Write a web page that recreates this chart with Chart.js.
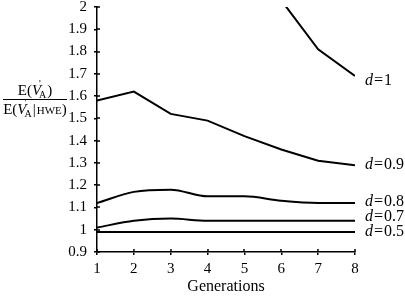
<!DOCTYPE html>
<html><head><meta charset="utf-8">
<script src="https://cdn.jsdelivr.net/npm/chart.js@4/dist/chart.umd.min.js"></script>
<style>html,body{margin:0;padding:0;background:#fff}#wrap{width:405px;height:299px}</style>
</head><body><div id="wrap"><canvas id="c"></canvas></div>
<script>
const generations = [1, 2, 3, 4, 5, 6, 7, 8];
const seriesNames = ['1', '0.9', '0.8', '0.7', '0.5'];
const d1   = [null, null, null, null, 2.30, 2.03, 1.81, 1.69];
const d09  = [1.58, 1.62, 1.52, 1.49, 1.42, 1.36, 1.31, 1.29];
const d08  = [1.12, 1.17, 1.18, 1.15, 1.15, 1.13, 1.12, 1.12];
const d07  = [1.01, 1.04, 1.05, 1.04, 1.04, 1.04, 1.04, 1.04];
const d05  = [0.99, 0.99, 0.99, 0.99, 0.99, 0.99, 0.99, 0.99];
const yTicks = [0.9, 1, 1.1, 1.2, 1.3, 1.4, 1.5, 1.6, 1.7, 1.8, 1.9, 2];
const xAxisTitle = 'Generations';

const seriesData = [d1, d09, d08, d07, d05];
const SERIF = '"Liberation Serif", "DejaVu Serif", serif';
const labelDy = [5, 0, -1, -4, 0];
const smooth = [false, false, true, true, false];

const innerTicks = {
  id: 'innerTicks',
  afterDatasetsDraw(chart) {
    const {ctx, chartArea: a, scales: {x, y}} = chart;
    ctx.save();
    ctx.strokeStyle = '#000'; ctx.lineWidth = 1.5;
    ctx.beginPath();
    yTicks.forEach(v => { const py = Math.round(y.getPixelForValue(v)); ctx.moveTo(a.left, py); ctx.lineTo(a.left + 3, py); });
    generations.forEach(v => { const px = Math.round(x.getPixelForValue(v)); ctx.moveTo(px, a.bottom); ctx.lineTo(px, a.bottom - 3); });
    ctx.stroke();
    ctx.restore();
  }
};

const endLabels = {
  id: 'endLabels',
  afterDraw(chart) {
    const {ctx, scales: {x, y}} = chart;
    ctx.save();
    ctx.fillStyle = '#000';
    ctx.textBaseline = 'middle';
    seriesNames.forEach((n, i) => {
      const data = seriesData[i];
      const v = data[data.length - 1];
      const px = x.getPixelForValue(generations[generations.length - 1]) + 10;
      const py = y.getPixelForValue(v) + labelDy[i];
      ctx.font = 'italic 16px ' + SERIF;
      ctx.fillText('d', px, py);
      const w = ctx.measureText('d').width + 1;
      ctx.font = '16px ' + SERIF;
      ctx.fillText('=', px + w, py);
      const w2 = ctx.measureText('=').width + 1;
      ctx.fillText(n, px + w + w2, py);
    });
    ctx.restore();
  }
};

function drawVA(ctx, x, base, withHWE) {
  ctx.font = '15px ' + SERIF;
  ctx.fillText('E(', x, base); x += ctx.measureText('E(').width;
  ctx.font = 'italic 15px ' + SERIF;
  ctx.fillText('V', x, base); const vw = ctx.measureText('V').width;
  ctx.font = '10px ' + SERIF;
  ctx.fillText("'", x + vw - 2, base - 8);
  ctx.fillText('A', x + vw - 2, base + 3);
  x += vw - 2 + ctx.measureText('A').width + 1;
  ctx.font = '15px ' + SERIF;
  if (withHWE) {
    ctx.fillText('|', x, base); x += ctx.measureText('|').width + 1;
    ctx.font = '11px ' + SERIF;
    ctx.fillText('HWE', x, base); x += ctx.measureText('HWE').width;
    ctx.font = '15px ' + SERIF;
  }
  ctx.fillText(')', x, base); x += ctx.measureText(')').width;
  return x;
}

const yTitle = {
  id: 'yTitle',
  afterDraw(chart) {
    const ctx = chart.ctx;
    ctx.save();
    ctx.fillStyle = '#000'; ctx.textBaseline = 'alphabetic'; ctx.textAlign = 'left';
    const off = document.createElement('canvas').getContext('2d');
    const meas = {fillText(){}, measureText: t => off.measureText(t), set font(f){off.font = f;}};
    const wTop = drawVA(meas, 0, 0, false);
    const wBot = drawVA(meas, 0, 0, true);
    const cx = 35;
    drawVA(ctx, cx - wTop / 2, 95, false);
    drawVA(ctx, cx - wBot / 2, 114, true);
    ctx.strokeStyle = '#000'; ctx.lineWidth = 1;
    ctx.beginPath(); ctx.moveTo(3, 99.5); ctx.lineTo(67, 99.5); ctx.stroke();
    ctx.restore();
  }
};

new Chart(document.getElementById('c'), {
  type: 'line',
  data: {
    labels: generations,
    datasets: seriesData.map((d, i) => ({
      label: 'd=' + seriesNames[i],
      data: d.map((v, j) => ({x: generations[j], y: v})),
      borderColor: '#000', borderWidth: 2, pointRadius: 0, fill: false,
      cubicInterpolationMode: smooth[i] ? 'monotone' : 'default', tension: 0, spanGaps: false
    }))
  },
  options: {
    responsive: true, maintainAspectRatio: false, animation: false,
    layout: {padding: {left: 0, right: 50, top: 7, bottom: 0}},
    plugins: {legend: {display: false}, tooltip: {enabled: false}},
    scales: {
      x: {
        type: 'linear', min: 1, max: 8,
        afterFit: s => { s.height = 47; s.paddingLeft = 0; s.paddingRight = 0; },
        afterBuildTicks: s => { s.ticks = generations.map(v => ({value: v})); },
        border: {display: true, color: '#000', width: 1.5},
        grid: {drawOnChartArea: false, drawTicks: true, tickLength: 3, color: '#000', lineWidth: 1.5},
        ticks: {color: '#000', padding: 5, maxRotation: 0, font: {family: SERIF, size: 15}},
        title: {display: true, text: xAxisTitle, color: '#000', padding: {top: 0, bottom: 3}, font: {family: SERIF, size: 16}}
      },
      y: {
        type: 'linear', min: 0.9, max: 2,
        afterFit: s => { s.width = 97; s.paddingTop = 0; s.paddingBottom = 0; },
        afterBuildTicks: s => { s.ticks = yTicks.map(v => ({value: v})); },
        border: {display: true, color: '#000', width: 1.5},
        grid: {drawOnChartArea: false, drawTicks: true, tickLength: 3, color: '#000', lineWidth: 1.5},
        ticks: {color: '#000', padding: 7, font: {family: SERIF, size: 15},
          callback: v => String(Math.round(v * 10) / 10)}
      }
    }
  },
  plugins: [innerTicks, endLabels, yTitle]
});
</script></body></html>
